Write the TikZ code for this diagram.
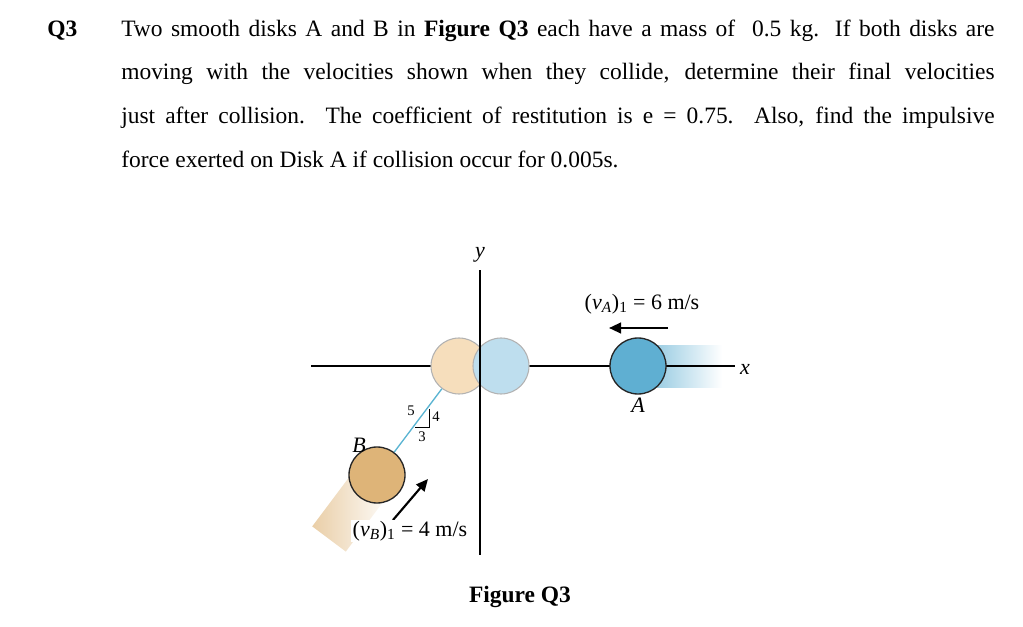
\documentclass[tikz,border=0pt]{standalone}
\usepackage{fontspec}
\setmainfont{Liberation Serif}
\usetikzlibrary{arrows.meta}
\begin{document}
\begin{tikzpicture}[x=0.75pt,y=-0.75pt,
  txt/.style={font=\fontsize{17.6}{20}\selectfont,inner sep=0},
  lbl/.style={font=\fontsize{16.5}{18}\selectfont,inner sep=0},
  axis/.style={draw=black,line width=0.8pt},
  disk/.style={circle,minimum size=42,inner sep=0,line width=1pt},
  ghost/.style={circle,minimum size=42,inner sep=0,line width=0.8pt,draw=gray!60},
  varrow/.style={line width=1.6pt,-{Triangle[length=9pt,width=8pt]}}]
\useasboundingbox (0,0) rectangle (1023,627);
\definecolor{diskA}{RGB}{95,175,210}
\definecolor{ghostA}{RGB}{190,222,238}
\definecolor{diskB}{RGB}{222,180,120}
\definecolor{ghostB}{RGB}{246,222,188}
\definecolor{rod}{RGB}{90,180,210}
% text
\node[txt,font=\fontsize{17.6}{20}\selectfont\bfseries,anchor=base west] (q) at (47,37) {Q3};
\node[txt,anchor=base west] (l1) at (121,37) {\makebox[655pt][s]{Two smooth disks A and B in \textbf{Figure Q3} each have a mass of\ \ 0.5 kg. If both disks are}};
\node[txt,anchor=base west] (l2) at (121,80) {\makebox[655pt][s]{moving with the velocities shown when they collide, determine their final velocities}};
\node[txt,anchor=base west] (l3) at (121,124) {\makebox[655pt][s]{just after collision. The coefficient of restitution is e = 0.75. Also, find the impulsive}};
\node[txt,anchor=base west] (l4) at (121,168) {force exerted on Disk A if collision occur for 0.005s.};
\node[txt,font=\fontsize{17.6}{20}\selectfont\bfseries] (cap) at (520,597) {Figure Q3};
% trails
\shade[left color=diskA!80, right color=white] (638,345) rectangle (722,387);
\begin{scope}[shift={(377,475)},rotate=233.13]
\shade[left color=diskB!65, right color=white] (0,-21) rectangle (80,21);
\end{scope}
% axes
\coordinate (xl) at (311,366); \coordinate (xr) at (735,366);
\coordinate (yt) at (480,270); \coordinate (yb) at (480,555);
\draw[axis] (xl) -- (xr);
\node[lbl,font=\fontsize{16.5}{18}\selectfont\itshape] (xlab) at (745,369) {x};
\node[lbl,font=\fontsize{16.5}{18}\selectfont\itshape] (ylab) at (480,255) {y};
% ghosts
\node[ghost,fill=ghostB] (gB) at (459,366) {};
\node[ghost,fill=ghostA] (gA) at (501,366) {};
\draw[axis] (yt) -- (yb);
\draw[axis] (xl) -- (gB.west);
% disks
\node[disk,draw=black!85,fill=diskA] (A) at (638,366) {};
\draw[axis] (A.east) -- (xr);
\node[disk,draw=black!85,fill=diskB] (B) at (377,475) {};
\draw[rod,line width=1pt] (gB) -- (B);
\node[lbl,font=\fontsize{16.5}{18}\selectfont\itshape] (Alab) at (638,405) {A};
\node[lbl,font=\fontsize{16.5}{18}\selectfont\itshape] (Blab) at (359,445) {B};
% slope triangle
\coordinate (t1) at (415,427); \coordinate (t2) at (429,427); \coordinate (t3) at (429,409);
\draw[line width=0.6pt] (t1) -- (t2) -- (t3);
\node[lbl,font=\fontsize{11}{12}\selectfont] (n5) at (411,411) {5};
\node[lbl,font=\fontsize{11}{12}\selectfont] (n4) at (436,417) {4};
\node[lbl,font=\fontsize{11}{12}\selectfont] (n3) at (422,437) {3};
% velocity arrows
\coordinate (vb1) at (393,520); \coordinate (vb2) at (428,479);
\draw[varrow] (vb1) -- (vb2);
\coordinate (va1) at (668,328); \coordinate (va2) at (609,328);
\draw[varrow] (va1) -- (va2);
\node[lbl,fill=white,inner sep=1pt] (vB) at (410,531) {(\textit{v}\textsubscript{\textit{B}})\textsubscript{1} = 4 m/s};
\node[lbl] (vA) at (642,304) {(\textit{v}\textsubscript{\textit{A}})\textsubscript{1} = 6 m/s};
\end{tikzpicture}
\end{document}
